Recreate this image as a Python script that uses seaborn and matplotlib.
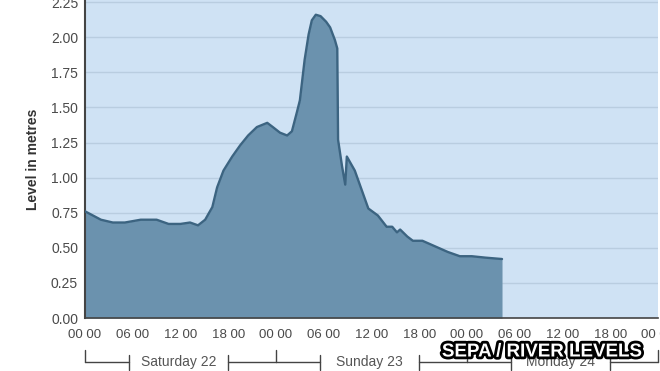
import matplotlib
matplotlib.use("Agg")
import matplotlib.pyplot as plt
import matplotlib.patheffects as pe
import seaborn as sns
import pandas as pd
import numpy as np

# ---- data (hours since Saturday 00:00, river level in metres) ----
hours = [0, 1, 2, 3.5, 5, 7, 9, 10.5, 12, 13.2, 14.2, 15.1, 16.0, 16.6, 17.4,
         18.5, 19.5, 20.5, 21.6, 22.9, 23.6, 24.5, 25.4, 26.0, 26.6, 27.0,
         27.6, 28.1, 28.5, 29.0, 29.6, 30.3, 30.8, 31.4, 31.7, 31.8,
         32.3, 32.7, 32.9, 33.9, 35.6, 36.8, 37.9, 38.6, 39.2, 39.6, 40.5,
         41.2, 42.4, 44.0, 45.6, 47.1, 48.6, 50.3, 52.4]
levels = [0.76, 0.73, 0.70, 0.68, 0.68, 0.70, 0.70, 0.67, 0.67, 0.68, 0.66,
          0.70, 0.79, 0.93, 1.05, 1.15, 1.23, 1.30, 1.36, 1.39, 1.36, 1.32,
          1.30, 1.33, 1.46, 1.55, 1.84, 2.02, 2.12, 2.16, 2.15, 2.11, 2.07,
          1.98, 1.92, 1.27, 1.08, 0.95, 1.15, 1.05, 0.78, 0.73, 0.65, 0.65,
          0.61, 0.63, 0.58, 0.55, 0.55, 0.51, 0.47, 0.44, 0.44, 0.43, 0.42]

x_ticks = [0, 6, 12, 18, 24, 30, 36, 42, 48, 54, 60, 66, 72]
x_tick_labels = ["00 00", "06 00", "12 00", "18 00", "00 00", "06 00",
                 "12 00", "18 00", "00 00", "06 00", "12 00", "18 00", "00 00"]
y_ticks = [0, 0.25, 0.5, 0.75, 1.0, 1.25, 1.5, 1.75, 2.0, 2.25]
day_starts = [0, 24, 48]
day_labels = ["Saturday 22", "Sunday 23", "Monday 24"]

df = pd.DataFrame({"hours": hours, "level": levels})

sns.set_theme(style="white")
plt.rcParams["font.family"] = ["Liberation Sans", "DejaVu Sans"]

fig = plt.figure(figsize=(6.6, 3.71), dpi=100)
fig.patch.set_facecolor("white")
ax = fig.add_axes([85 / 660, 53 / 371, 573 / 660, 318 / 371])

bg = "#cfe2f4"
fill_c = "#6b92ae"
line_c = "#3c6481"
ax.set_facecolor(bg)

for yv in y_ticks[1:]:
    ax.axhline(yv, color="#b9cde0", lw=1.0, zorder=1)

ax.fill_between(df["hours"], 0, df["level"], color=fill_c, lw=0, zorder=2)
sns.lineplot(data=df, x="hours", y="level", ax=ax, color=line_c, lw=1.7,
             zorder=3, legend=False)

ax.set_xlim(0, 72)
ax.set_ylim(0, 318 / 140.4)

ax.set_xticks(x_ticks)
ax.set_xticklabels(x_tick_labels, fontsize=9.5, color="#4a4a4a")
ax.set_xticks(np.arange(0, 73, 1), minor=True)
ax.set_yticks(y_ticks)
ax.set_yticklabels([f"{v:.2f}" for v in y_ticks], fontsize=10, color="#4a4a4a")
ax.tick_params(axis="x", which="major", length=4, width=1, color="#444444", pad=4)
ax.tick_params(axis="x", which="minor", length=2, width=0.8, color="#555555")
ax.tick_params(axis="y", which="major", length=3, width=1, color="#444444", pad=2)
ax.set_xlabel("")
ax.set_ylabel("Level in metres", fontsize=10, fontweight="bold",
              color="#333333", labelpad=8)

for s in ["top", "right"]:
    ax.spines[s].set_visible(False)
ax.spines["left"].set_color("#444444")
ax.spines["left"].set_linewidth(1.5)
ax.spines["bottom"].set_color("#444444")
ax.spines["bottom"].set_linewidth(1.2)

# ---- day brackets ----
tr = ax.get_xaxis_transform()
yb = (318 - 362) / 318
ytop = (318 - 350) / 318
ybar0 = (318 - 355) / 318
ybar1 = (318 - 370) / 318
kw = dict(transform=tr, clip_on=False, color="#444444", lw=1.0)
for s, lab in zip(day_starts, day_labels):
    ax.plot([s, s + 5.5], [yb, yb], **kw)
    ax.plot([s + 18, s + 24], [yb, yb], **kw)
    ax.plot([s + 5.5, s + 5.5], [ybar0, ybar1], **kw)
    ax.plot([s + 18, s + 18], [ybar0, ybar1], **kw)
    ax.plot([s, s], [yb, ytop], **kw)
    ax.text(s + 11.75, yb, lab, transform=tr, ha="center", va="center",
            fontsize=10, color="#555555", clip_on=False)
ax.plot([72, 72], [yb, ytop], **kw)

# ---- watermark ----
fig.text(542 / 660, 1 - 352 / 371, "SEPA / RIVER LEVELS", ha="center",
         va="center", fontsize=13.5, fontweight="bold", color="white",
         path_effects=[pe.withStroke(linewidth=4, foreground="black")],
         zorder=10)

fig.savefig("out.png", dpi=100, facecolor="white")
